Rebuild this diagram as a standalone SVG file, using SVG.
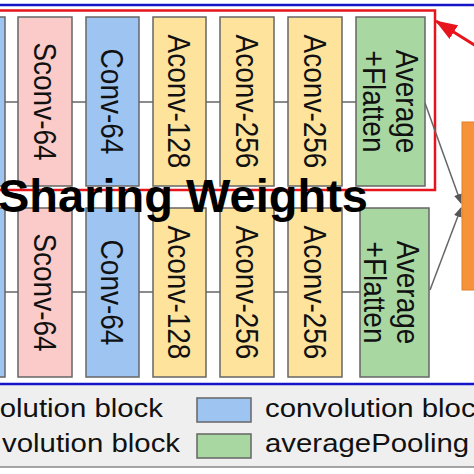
<svg xmlns="http://www.w3.org/2000/svg" width="474" height="474" viewBox="0 0 474 474">
<style>
.box{stroke:#666;stroke-width:1.5}
.pink{fill:#FACBC8}.blue{fill:#9EC4F1}.yel{fill:#FEE39D}.grn{fill:#A9D7A2}
.bt{font-family:"Liberation Sans",Arial,sans-serif;font-size:28px;fill:#111;text-anchor:middle}
.lg{font-family:"Liberation Sans",Arial,sans-serif;font-size:26px;fill:#111}
.conn{stroke:#666;stroke-width:1.5;fill:none}
</style>
<defs>
<marker id="ga" markerWidth="10" markerHeight="8" refX="9" refY="4" orient="auto" markerUnits="userSpaceOnUse"><path d="M0,0 L10,4 L0,8 z" fill="#555"/></marker>
<marker id="ra" markerWidth="22" markerHeight="16" refX="21" refY="8" orient="auto" markerUnits="userSpaceOnUse"><path d="M0,0 L22,8 L0,16 z" fill="#E8141C"/></marker>
</defs>
<rect x="0" y="0" width="474" height="474" fill="#fff"/>
<rect x="-10" y="385" width="494" height="82" fill="#EFEFEF"/>
<line x1="-10" y1="467" x2="484" y2="467" stroke="#888" stroke-width="1.5"/>
<rect x="-10" y="5" width="500" height="379" fill="none" stroke="#1414C8" stroke-width="2.5"/>
<rect x="-10" y="10.5" width="445" height="179.5" fill="none" stroke="#E8141C" stroke-width="2.5"/>
<g id="connectors">
<path class="conn" d="M5,102H18M72,102H86M139,102H153M206,102H220M274,102H288M342,102H356"/>
<path class="conn" d="M5,292H18M72,292H86M139,292H153M206,292H220M274,292H288M342,292H360"/>
<line class="conn" x1="425" y1="103" x2="461" y2="203" marker-end="url(#ga)"/>
<line class="conn" x1="430" y1="290" x2="461" y2="208" marker-end="url(#ga)"/>
<line x1="476" y1="46" x2="436" y2="21" stroke="#E8141C" stroke-width="3" marker-end="url(#ra)"/>
</g>
<g id="orange"><rect x="462" y="122" width="20" height="168" fill="#F5923A" stroke="#E0802A" stroke-width="1"/></g>
<g id="top-b0"><rect class="box blue" x="-40" y="17" width="45" height="169"/></g>
<g id="top-sconv64"><rect class="box pink" x="18" y="17" width="54" height="169"/><text class="bt" transform="translate(45,101.5) scale(1.15,1) rotate(90)" y="9.8">Sconv-64</text></g>
<g id="top-conv64"><rect class="box blue" x="86" y="17" width="53" height="169"/><text class="bt" transform="translate(112.5,101.5) scale(1.15,1) rotate(90)" y="9.8">Conv-64</text></g>
<g id="top-aconv128"><rect class="box yel" x="153" y="17" width="53" height="169"/><text class="bt" transform="translate(179.5,101.5) scale(1.15,1) rotate(90)" y="9.8">Aconv-128</text></g>
<g id="top-aconv256a"><rect class="box yel" x="220" y="17" width="54" height="169"/><text class="bt" transform="translate(247,101.5) scale(1.15,1) rotate(90)" y="9.8">Aconv-256</text></g>
<g id="top-aconv256b"><rect class="box yel" x="288" y="17" width="54" height="169"/><text class="bt" transform="translate(315,101.5) scale(1.15,1) rotate(90)" y="9.8">Aconv-256</text></g>
<g id="top-avg"><rect class="box grn" x="356" y="17" width="69" height="169"/><text class="bt" transform="translate(390.5,101.5) scale(1.15,1) rotate(90)"><tspan x="0" y="-4.5">Average</tspan><tspan x="0" y="24.1">+Flatten</tspan></text></g>
<g id="bot-b0"><rect class="box blue" x="-40" y="208" width="45" height="169"/></g>
<g id="bot-sconv64"><rect class="box pink" x="18" y="208" width="54" height="169"/><text class="bt" transform="translate(45,292.5) scale(1.15,1) rotate(90)" y="9.8">Sconv-64</text></g>
<g id="bot-conv64"><rect class="box blue" x="86" y="208" width="53" height="169"/><text class="bt" transform="translate(112.5,292.5) scale(1.15,1) rotate(90)" y="9.8">Conv-64</text></g>
<g id="bot-aconv128"><rect class="box yel" x="153" y="208" width="53" height="169"/><text class="bt" transform="translate(179.5,292.5) scale(1.15,1) rotate(90)" y="9.8">Aconv-128</text></g>
<g id="bot-aconv256a"><rect class="box yel" x="220" y="208" width="54" height="169"/><text class="bt" transform="translate(247,292.5) scale(1.15,1) rotate(90)" y="9.8">Aconv-256</text></g>
<g id="bot-aconv256b"><rect class="box yel" x="288" y="208" width="54" height="169"/><text class="bt" transform="translate(315,292.5) scale(1.15,1) rotate(90)" y="9.8">Aconv-256</text></g>
<g id="bot-avg"><rect class="box grn" x="360" y="208" width="69" height="169"/><text class="bt" transform="translate(392,292.5) scale(1.15,1) rotate(90)"><tspan x="0" y="-4.5">Average</tspan><tspan x="0" y="24.1">+Flatten</tspan></text></g>
<g id="title"><text x="-2" y="212" font-family="Liberation Sans,Arial,sans-serif" font-weight="bold" font-size="47" fill="#000">Sharing Weights</text></g>
<g id="legend">
<text class="lg" transform="translate(163,417) scale(1.13,1)" text-anchor="end">olution block</text>
<text class="lg" transform="translate(180,452) scale(1.13,1)" text-anchor="end">volution block</text>
<rect class="box blue" x="197" y="398" width="54" height="24"/>
<rect class="box grn" x="197" y="434" width="54" height="24"/>
<text class="lg" transform="translate(265,417) scale(1.13,1)">convolution bloc</text>
<text class="lg" transform="translate(265,452) scale(1.13,1)">averagePooling</text>
</g>
</svg>
